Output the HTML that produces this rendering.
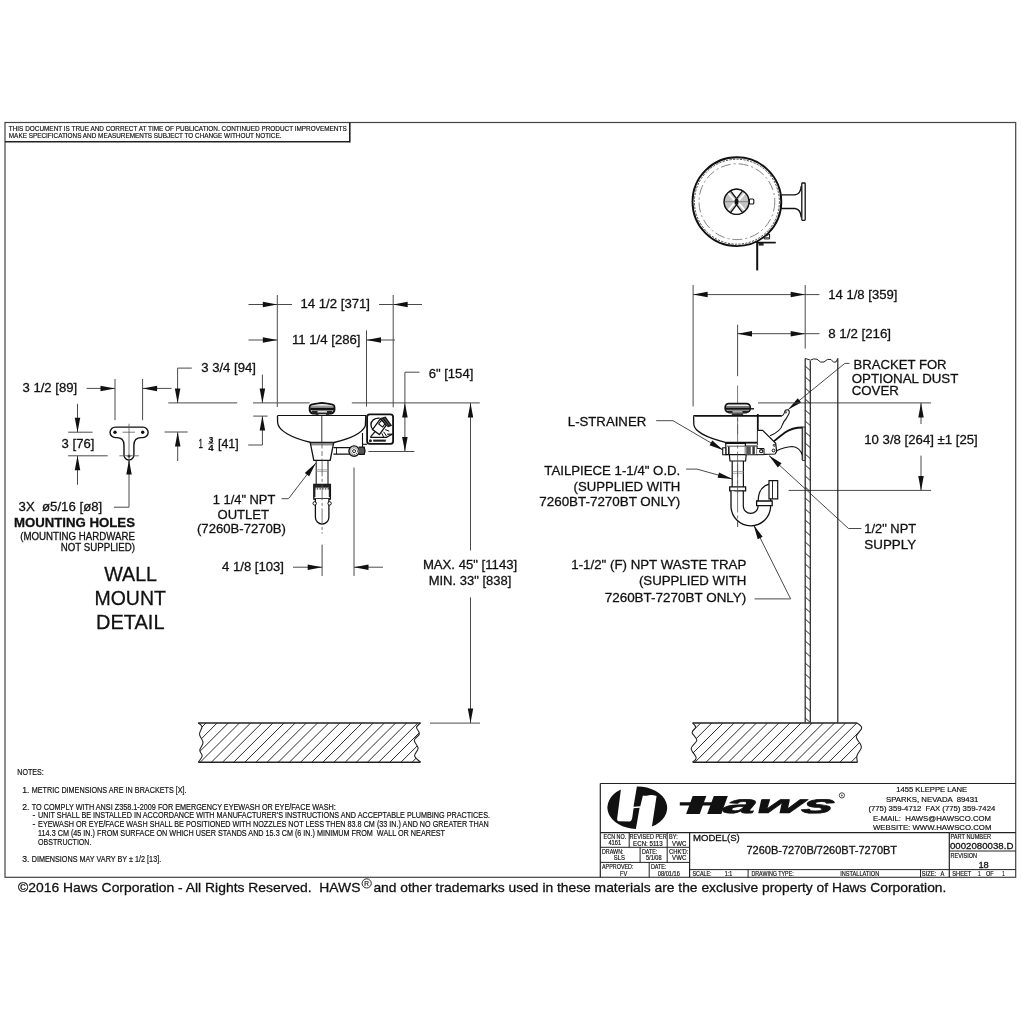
<!DOCTYPE html>
<html><head><meta charset="utf-8"><style>
html,body{margin:0;padding:0;background:#fff;}
svg{display:block;will-change:transform;}
text{font-family:"Liberation Sans",sans-serif;white-space:pre;}
</style></head><body>
<svg width="1024" height="1024" viewBox="0 0 1024 1024">
<rect width="1024" height="1024" fill="#fff"/>
<rect x="5" y="122.5" width="1010.7" height="754.8" fill="none" stroke="#444" stroke-width="1.2"/>
<line x1="5" y1="141.8" x2="349.8" y2="141.8" stroke="#222" stroke-width="1.6" />
<line x1="349.8" y1="122.5" x2="349.8" y2="142.4" stroke="#222" stroke-width="1.6" />
<text x="8.8" y="130.6" font-size="7" font-family="Liberation Sans" font-weight="normal" fill="#111" stroke="#111" stroke-width="0.18" text-anchor="start" textLength="337.9" lengthAdjust="spacingAndGlyphs" >THIS DOCUMENT IS TRUE AND CORRECT AT TIME OF PUBLICATION. CONTINUED PRODUCT IMPROVEMENTS</text>
<text x="8.8" y="138.4" font-size="7" font-family="Liberation Sans" font-weight="normal" fill="#111" stroke="#111" stroke-width="0.18" text-anchor="start" textLength="272.7" lengthAdjust="spacingAndGlyphs" >MAKE SPECIFICATIONS AND MEASUREMENTS SUBJECT TO CHANGE WITHOUT NOTICE.</text>
<line x1="277.3" y1="295" x2="277.3" y2="407" stroke="#4a4a4a" stroke-width="1.0" />
<line x1="393.2" y1="295" x2="393.2" y2="407.3" stroke="#4a4a4a" stroke-width="1.0" />
<line x1="366.5" y1="330.3" x2="366.5" y2="406.6" stroke="#4a4a4a" stroke-width="1.0" />
<line x1="248.5" y1="304.5" x2="292" y2="304.5" stroke="#4a4a4a" stroke-width="1.0" />
<polygon points="277.30,304.50 262.80,307.25 262.80,301.75" fill="#111"/>
<line x1="379" y1="304.5" x2="422" y2="304.5" stroke="#4a4a4a" stroke-width="1.0" />
<polygon points="393.20,304.50 407.70,301.75 407.70,307.25" fill="#111"/>
<text x="300.5" y="308" font-size="12.9" font-family="Liberation Sans" font-weight="normal" fill="#111" stroke="#111" stroke-width="0.28" text-anchor="start" textLength="69.5" lengthAdjust="spacingAndGlyphs" >14 1/2 [371]</text>
<line x1="248.5" y1="340" x2="277.3" y2="340" stroke="#4a4a4a" stroke-width="1.0" />
<polygon points="277.30,340.00 262.80,342.75 262.80,337.25" fill="#111"/>
<line x1="366.5" y1="340" x2="395" y2="340" stroke="#4a4a4a" stroke-width="1.0" />
<polygon points="366.50,340.00 381.00,337.25 381.00,342.75" fill="#111"/>
<text x="292" y="343.6" font-size="12.9" font-family="Liberation Sans" font-weight="normal" fill="#111" stroke="#111" stroke-width="0.28" text-anchor="start" textLength="68.5" lengthAdjust="spacingAndGlyphs" >11 1/4 [286]</text>
<line x1="168.3" y1="402.9" x2="237.2" y2="402.9" stroke="#4a4a4a" stroke-width="1.0" />
<line x1="253" y1="402.9" x2="309.6" y2="402.9" stroke="#4a4a4a" stroke-width="1.0" />
<line x1="351.8" y1="402.9" x2="479.8" y2="402.9" stroke="#4a4a4a" stroke-width="1.0" />
<text x="201.2" y="371.8" font-size="12.9" font-family="Liberation Sans" font-weight="normal" fill="#111" stroke="#111" stroke-width="0.28" text-anchor="start" textLength="54.8" lengthAdjust="spacingAndGlyphs" >3 3/4 [94]</text>
<polyline points="191.8,368.1 177.6,368.1 177.6,402.9" fill="none" stroke="#4a4a4a" stroke-width="1.0" />
<polygon points="177.60,402.90 174.85,388.40 180.35,388.40" fill="#111"/>
<line x1="262.4" y1="374.6" x2="262.4" y2="402.9" stroke="#4a4a4a" stroke-width="1.0" />
<polygon points="262.40,402.90 259.65,388.40 265.15,388.40" fill="#111"/>
<line x1="253.2" y1="416.1" x2="267.6" y2="416.1" stroke="#4a4a4a" stroke-width="1.0" />
<polyline points="262.4,416.1 262.4,445 248.2,445" fill="none" stroke="#4a4a4a" stroke-width="1.0" />
<polygon points="262.40,416.10 265.15,430.60 259.65,430.60" fill="#111"/>
<line x1="164.5" y1="432" x2="187.6" y2="432" stroke="#4a4a4a" stroke-width="1.0" />
<line x1="177.7" y1="432" x2="177.7" y2="461" stroke="#4a4a4a" stroke-width="1.0" />
<polygon points="177.70,432.00 180.45,446.50 174.95,446.50" fill="#111"/>
<text x="198.6" y="448.4" font-size="12.9" font-family="Liberation Sans" font-weight="normal" fill="#111" stroke="#111" stroke-width="0.28" text-anchor="start" textLength="4.4" lengthAdjust="spacingAndGlyphs" >1</text>
<text x="208.8" y="442.6" font-size="8.8" font-family="Liberation Sans" font-weight="bold" fill="#111" stroke="#111" stroke-width="0.18" text-anchor="start" textLength="4.6" lengthAdjust="spacingAndGlyphs" >3</text>
<text x="208.3" y="451.1" font-size="8.8" font-family="Liberation Sans" font-weight="bold" fill="#111" stroke="#111" stroke-width="0.18" text-anchor="start" textLength="5.4" lengthAdjust="spacingAndGlyphs" >4</text>
<line x1="208.2" y1="443.7" x2="213.7" y2="443.7" stroke="#333" stroke-width="0.8" />
<text x="218" y="448.4" font-size="12.9" font-family="Liberation Sans" font-weight="normal" fill="#111" stroke="#111" stroke-width="0.28" text-anchor="start" textLength="20.6" lengthAdjust="spacingAndGlyphs" >[41]</text>
<polyline points="419.4,372.2 404.9,372.2 404.9,451.5" fill="none" stroke="#4a4a4a" stroke-width="1.0" />
<polygon points="404.90,403.00 407.65,417.50 402.15,417.50" fill="#111"/>
<polygon points="404.90,451.50 402.15,437.00 407.65,437.00" fill="#111"/>
<text x="428.7" y="377.6" font-size="12.9" font-family="Liberation Sans" font-weight="normal" fill="#111" stroke="#111" stroke-width="0.28" text-anchor="start" textLength="44.6" lengthAdjust="spacingAndGlyphs" >6" [154]</text>
<line x1="368.4" y1="451.5" x2="414.4" y2="451.5" stroke="#4a4a4a" stroke-width="1.0" />
<line x1="470.5" y1="403" x2="470.5" y2="550.5" stroke="#4a4a4a" stroke-width="1.0" />
<polygon points="470.50,403.00 473.25,417.50 467.75,417.50" fill="#111"/>
<line x1="470.5" y1="597.4" x2="470.5" y2="723.1" stroke="#4a4a4a" stroke-width="1.0" />
<polygon points="470.50,723.10 467.75,708.60 473.25,708.60" fill="#111"/>
<text x="422.9" y="569.3" font-size="12.9" font-family="Liberation Sans" font-weight="normal" fill="#111" stroke="#111" stroke-width="0.28" text-anchor="start" textLength="94.3" lengthAdjust="spacingAndGlyphs" >MAX. 45" [1143]</text>
<text x="428.7" y="585.1" font-size="12.9" font-family="Liberation Sans" font-weight="normal" fill="#111" stroke="#111" stroke-width="0.28" text-anchor="start" textLength="82.6" lengthAdjust="spacingAndGlyphs" >MIN. 33" [838]</text>
<line x1="430" y1="723.1" x2="480" y2="723.1" stroke="#4a4a4a" stroke-width="1.0" />
<line x1="354" y1="467.5" x2="354" y2="576" stroke="#4a4a4a" stroke-width="1.0" />
<line x1="293" y1="567.2" x2="322.2" y2="567.2" stroke="#4a4a4a" stroke-width="1.0" />
<polygon points="322.20,567.20 307.70,569.95 307.70,564.45" fill="#111"/>
<line x1="354" y1="567.2" x2="383" y2="567.2" stroke="#4a4a4a" stroke-width="1.0" />
<polygon points="354.00,567.20 368.50,564.45 368.50,569.95" fill="#111"/>
<text x="222" y="570.6" font-size="12.9" font-family="Liberation Sans" font-weight="normal" fill="#111" stroke="#111" stroke-width="0.28" text-anchor="start" textLength="62" lengthAdjust="spacingAndGlyphs" >4 1/8 [103]</text>
<text x="212.8" y="504" font-size="12.9" font-family="Liberation Sans" font-weight="normal" fill="#111" stroke="#111" stroke-width="0.28" text-anchor="start" textLength="62.5" lengthAdjust="spacingAndGlyphs" >1 1/4" NPT</text>
<text x="217.5" y="518.8" font-size="12.9" font-family="Liberation Sans" font-weight="normal" fill="#111" stroke="#111" stroke-width="0.28" text-anchor="start" textLength="51.5" lengthAdjust="spacingAndGlyphs" >OUTLET</text>
<text x="197" y="532.8" font-size="12.9" font-family="Liberation Sans" font-weight="normal" fill="#111" stroke="#111" stroke-width="0.28" text-anchor="start" textLength="89" lengthAdjust="spacingAndGlyphs" >(7260B-7270B)</text>
<polyline points="281.6,498.7 288.5,498.7 315.8,463.1" fill="none" stroke="#4a4a4a" stroke-width="1.0" />
<polygon points="315.80,463.10 309.16,476.28 304.79,472.93" fill="#111"/>
<text x="22.5" y="392" font-size="12.9" font-family="Liberation Sans" font-weight="normal" fill="#111" stroke="#111" stroke-width="0.28" text-anchor="start" textLength="54.7" lengthAdjust="spacingAndGlyphs" >3 1/2 [89]</text>
<line x1="86.6" y1="388.4" x2="115" y2="388.4" stroke="#4a4a4a" stroke-width="1.0" />
<polygon points="115.00,388.40 100.50,391.15 100.50,385.65" fill="#111"/>
<line x1="142.6" y1="388.4" x2="171.5" y2="388.4" stroke="#4a4a4a" stroke-width="1.0" />
<polygon points="142.60,388.40 157.10,385.65 157.10,391.15" fill="#111"/>
<line x1="115" y1="379" x2="115" y2="420.2" stroke="#4a4a4a" stroke-width="1.0" />
<line x1="142.6" y1="379" x2="142.6" y2="420.2" stroke="#4a4a4a" stroke-width="1.0" />
<path d="M115.3,427.1 L142.9,427.1 A5.25,5.25 0 0 1 142.9,437.6 L141.2,437.6 C136.4,437.6 133.9,440.8 133.9,445.2 L133.9,455 A4.95,4.95 0 0 1 124,455 L124,445.2 C124,440.8 121.6,437.6 116.8,437.6 L115.3,437.6 A5.25,5.25 0 0 1 115.3,427.1 Z" fill="none" stroke="#111" stroke-width="1.4" />
<circle cx="115" cy="432.2" r="1.7" fill="#111"/>
<circle cx="142.7" cy="432.2" r="1.7" fill="#111"/>
<circle cx="129" cy="456" r="1.5" fill="#111"/>
<line x1="129" y1="423.7" x2="129" y2="463" stroke="#555" stroke-width="0.8" />
<line x1="122.5" y1="432.2" x2="135" y2="432.2" stroke="#555" stroke-width="0.8" />
<line x1="119.4" y1="455.8" x2="138.9" y2="455.8" stroke="#555" stroke-width="0.8" />
<text x="61.6" y="447.5" font-size="12.9" font-family="Liberation Sans" font-weight="normal" fill="#111" stroke="#111" stroke-width="0.28" text-anchor="start" textLength="32.8" lengthAdjust="spacingAndGlyphs" >3 [76]</text>
<line x1="68.1" y1="432.2" x2="92.5" y2="432.2" stroke="#4a4a4a" stroke-width="1.0" />
<line x1="68.1" y1="455.8" x2="107.7" y2="455.8" stroke="#4a4a4a" stroke-width="1.0" />
<line x1="77.5" y1="403.8" x2="77.5" y2="432.2" stroke="#4a4a4a" stroke-width="1.0" />
<polygon points="77.50,432.20 74.75,417.70 80.25,417.70" fill="#111"/>
<line x1="77.5" y1="455.8" x2="77.5" y2="484.7" stroke="#4a4a4a" stroke-width="1.0" />
<polygon points="77.50,455.80 80.25,470.30 74.75,470.30" fill="#111"/>
<polyline points="129,460 129,507.2 113.9,507.2" fill="none" stroke="#4a4a4a" stroke-width="1.0" />
<polygon points="129.00,460.00 131.75,474.50 126.25,474.50" fill="#111"/>
<text x="18.6" y="510.8" font-size="12.9" font-family="Liberation Sans" font-weight="normal" fill="#111" stroke="#111" stroke-width="0.28" text-anchor="start" textLength="83.6" lengthAdjust="spacingAndGlyphs" >3X  ø5/16 [ø8]</text>
<text x="13.9" y="526.9" font-size="12.6" font-family="Liberation Sans" font-weight="bold" fill="#111" stroke="#111" stroke-width="0.28" text-anchor="start" textLength="121.1" lengthAdjust="spacingAndGlyphs" >MOUNTING HOLES</text>
<text x="20.2" y="539.7" font-size="10" font-family="Liberation Sans" font-weight="normal" fill="#111" stroke="#111" stroke-width="0.28" text-anchor="start" textLength="114.8" lengthAdjust="spacingAndGlyphs" >(MOUNTING HARDWARE</text>
<text x="60.8" y="551" font-size="10" font-family="Liberation Sans" font-weight="normal" fill="#111" stroke="#111" stroke-width="0.28" text-anchor="start" textLength="74.2" lengthAdjust="spacingAndGlyphs" >NOT SUPPLIED)</text>
<text x="104.2" y="581.2" font-size="20" font-family="Liberation Sans" font-weight="normal" fill="#111" stroke="#111" stroke-width="0.28" text-anchor="start" textLength="52.9" lengthAdjust="spacingAndGlyphs" >WALL</text>
<text x="94.5" y="605.3" font-size="20" font-family="Liberation Sans" font-weight="normal" fill="#111" stroke="#111" stroke-width="0.28" text-anchor="start" textLength="71.4" lengthAdjust="spacingAndGlyphs" >MOUNT</text>
<text x="96.1" y="628.9" font-size="20" font-family="Liberation Sans" font-weight="normal" fill="#111" stroke="#111" stroke-width="0.28" text-anchor="start" textLength="68.4" lengthAdjust="spacingAndGlyphs" >DETAIL</text>
<text x="17.3" y="775.2" font-size="8.6" font-family="Liberation Sans" font-weight="normal" fill="#111" stroke="#111" stroke-width="0.18" text-anchor="start" textLength="26.4" lengthAdjust="spacingAndGlyphs" >NOTES:</text>
<text x="22.3" y="793" font-size="8.6" font-family="Liberation Sans" font-weight="normal" fill="#111" stroke="#111" stroke-width="0.18" text-anchor="start" >1.</text>
<text x="31.7" y="793" font-size="8.6" font-family="Liberation Sans" font-weight="normal" fill="#111" stroke="#111" stroke-width="0.18" text-anchor="start" textLength="154.9" lengthAdjust="spacingAndGlyphs" >METRIC DIMENSIONS ARE IN BRACKETS [X].</text>
<text x="22.3" y="809.5" font-size="8.6" font-family="Liberation Sans" font-weight="normal" fill="#111" stroke="#111" stroke-width="0.18" text-anchor="start" >2.</text>
<text x="31.7" y="809.5" font-size="8.6" font-family="Liberation Sans" font-weight="normal" fill="#111" stroke="#111" stroke-width="0.18" text-anchor="start" textLength="304.1" lengthAdjust="spacingAndGlyphs" >TO COMPLY WITH ANSI Z358.1-2009 FOR EMERGENCY EYEWASH OR EYE/FACE WASH:</text>
<text x="32.5" y="817.9" font-size="8.6" font-family="Liberation Sans" font-weight="normal" fill="#111" stroke="#111" stroke-width="0.18" text-anchor="start" >-</text>
<text x="38.1" y="817.9" font-size="8.6" font-family="Liberation Sans" font-weight="normal" fill="#111" stroke="#111" stroke-width="0.18" text-anchor="start" textLength="451.9" lengthAdjust="spacingAndGlyphs" >UNIT SHALL BE INSTALLED IN ACCORDANCE WITH MANUFACTURER'S INSTRUCTIONS AND ACCEPTABLE PLUMBING PRACTICES.</text>
<text x="32.5" y="826.8" font-size="8.6" font-family="Liberation Sans" font-weight="normal" fill="#111" stroke="#111" stroke-width="0.18" text-anchor="start" >-</text>
<text x="38.1" y="826.8" font-size="8.6" font-family="Liberation Sans" font-weight="normal" fill="#111" stroke="#111" stroke-width="0.18" text-anchor="start" textLength="450.6" lengthAdjust="spacingAndGlyphs" >EYEWASH OR EYE/FACE WASH SHALL BE POSITIONED WITH NOZZLES NOT LESS THEN 83.8 CM (33 IN.) AND NO GREATER THAN</text>
<text x="38.1" y="835.7" font-size="8.6" font-family="Liberation Sans" font-weight="normal" fill="#111" stroke="#111" stroke-width="0.18" text-anchor="start" textLength="406.9" lengthAdjust="spacingAndGlyphs" >114.3 CM (45 IN.) FROM SURFACE ON WHICH USER STANDS AND 15.3 CM (6 IN.) MINIMUM FROM  WALL OR NEAREST</text>
<text x="38.1" y="844.6" font-size="8.6" font-family="Liberation Sans" font-weight="normal" fill="#111" stroke="#111" stroke-width="0.18" text-anchor="start" textLength="53.3" lengthAdjust="spacingAndGlyphs" >OBSTRUCTION.</text>
<text x="22.3" y="861.6" font-size="8.6" font-family="Liberation Sans" font-weight="normal" fill="#111" stroke="#111" stroke-width="0.18" text-anchor="start" >3.</text>
<text x="31.7" y="861.6" font-size="8.6" font-family="Liberation Sans" font-weight="normal" fill="#111" stroke="#111" stroke-width="0.18" text-anchor="start" textLength="129.5" lengthAdjust="spacingAndGlyphs" >DIMENSIONS MAY VARY BY ± 1/2 [13].</text>
<text x="18" y="891.7" font-size="13.6" font-family="Liberation Sans" font-weight="normal" fill="#111" stroke="#111" stroke-width="0.28" text-anchor="start" textLength="342.5" lengthAdjust="spacingAndGlyphs" >©2016 Haws Corporation - All Rights Reserved.  HAWS</text>
<circle cx="366.7" cy="883.4" r="4.6" fill="none" stroke="#111" stroke-width="0.9"/>
<text x="366.7" y="886.2" font-size="6.5" font-family="Liberation Sans" font-weight="normal" fill="#111" stroke="#111" stroke-width="0.18" text-anchor="middle" >R</text>
<text x="373.4" y="891.7" font-size="13.6" font-family="Liberation Sans" font-weight="normal" fill="#111" stroke="#111" stroke-width="0.28" text-anchor="start" textLength="573.0" lengthAdjust="spacingAndGlyphs" >and other trademarks used in these materials are the exclusive property of Haws Corporation.</text>
<line x1="600.3" y1="783.5" x2="1015.7" y2="783.5" stroke="#222" stroke-width="1.2" />
<line x1="600.3" y1="783.5" x2="600.3" y2="877.3" stroke="#222" stroke-width="1.2" />
<line x1="600.3" y1="832.6" x2="1015.7" y2="832.6" stroke="#222" stroke-width="1.2" />
<line x1="689.6" y1="832.6" x2="689.6" y2="877.3" stroke="#222" stroke-width="1.2" />
<line x1="949.3" y1="832.6" x2="949.3" y2="877.3" stroke="#222" stroke-width="1.2" />
<line x1="600.3" y1="847.3" x2="689.6" y2="847.3" stroke="#222" stroke-width="1.0" />
<line x1="600.3" y1="862.4" x2="689.6" y2="862.4" stroke="#222" stroke-width="1.0" />
<line x1="629.2" y1="832.6" x2="629.2" y2="847.3" stroke="#222" stroke-width="1.0" />
<line x1="667.2" y1="832.6" x2="667.2" y2="862.4" stroke="#222" stroke-width="1.0" />
<line x1="640.1" y1="847.3" x2="640.1" y2="862.4" stroke="#222" stroke-width="1.0" />
<line x1="649.2" y1="862.4" x2="649.2" y2="877.3" stroke="#222" stroke-width="1.0" />
<line x1="689.6" y1="869.6" x2="1015.7" y2="869.6" stroke="#222" stroke-width="1.0" />
<line x1="748.1" y1="869.6" x2="748.1" y2="877.3" stroke="#222" stroke-width="1.0" />
<line x1="920.5" y1="869.6" x2="920.5" y2="877.3" stroke="#222" stroke-width="1.0" />
<line x1="949.3" y1="851" x2="1015.7" y2="851" stroke="#222" stroke-width="1.0" />
<text x="603.6" y="838.7" font-size="6.8" font-family="Liberation Sans" font-weight="normal" fill="#111" stroke="#111" stroke-width="0.18" text-anchor="start" textLength="22.6" lengthAdjust="spacingAndGlyphs" >ECN NO.</text>
<text x="608.4" y="845.3" font-size="6.8" font-family="Liberation Sans" font-weight="normal" fill="#111" stroke="#111" stroke-width="0.18" text-anchor="start" textLength="12.9" lengthAdjust="spacingAndGlyphs" >4161</text>
<text x="629.6" y="838.7" font-size="6.8" font-family="Liberation Sans" font-weight="normal" fill="#111" stroke="#111" stroke-width="0.18" text-anchor="start" textLength="37.2" lengthAdjust="spacingAndGlyphs" >REVISED PER</text>
<text x="633.1" y="845.6" font-size="6.8" font-family="Liberation Sans" font-weight="normal" fill="#111" stroke="#111" stroke-width="0.18" text-anchor="start" textLength="29.6" lengthAdjust="spacingAndGlyphs" >ECN: 5113</text>
<text x="669.1" y="838.7" font-size="6.8" font-family="Liberation Sans" font-weight="normal" fill="#111" stroke="#111" stroke-width="0.18" text-anchor="start" textLength="8.6" lengthAdjust="spacingAndGlyphs" >BY:</text>
<text x="672.1" y="845.6" font-size="6.8" font-family="Liberation Sans" font-weight="normal" fill="#111" stroke="#111" stroke-width="0.18" text-anchor="start" textLength="14.2" lengthAdjust="spacingAndGlyphs" >VWC</text>
<text x="602" y="853.6" font-size="6.8" font-family="Liberation Sans" font-weight="normal" fill="#111" stroke="#111" stroke-width="0.18" text-anchor="start" textLength="21.5" lengthAdjust="spacingAndGlyphs" >DRAWN:</text>
<text x="613.8" y="860.4" font-size="6.8" font-family="Liberation Sans" font-weight="normal" fill="#111" stroke="#111" stroke-width="0.18" text-anchor="start" textLength="11.2" lengthAdjust="spacingAndGlyphs" >SLS</text>
<text x="642" y="853.6" font-size="6.8" font-family="Liberation Sans" font-weight="normal" fill="#111" stroke="#111" stroke-width="0.18" text-anchor="start" textLength="15.3" lengthAdjust="spacingAndGlyphs" >DATE:</text>
<text x="646" y="860.4" font-size="6.8" font-family="Liberation Sans" font-weight="normal" fill="#111" stroke="#111" stroke-width="0.18" text-anchor="start" textLength="15.6" lengthAdjust="spacingAndGlyphs" >5/1/08</text>
<text x="669.1" y="853.6" font-size="6.8" font-family="Liberation Sans" font-weight="normal" fill="#111" stroke="#111" stroke-width="0.18" text-anchor="start" textLength="19.4" lengthAdjust="spacingAndGlyphs" >CHK'D:</text>
<text x="672.1" y="860.4" font-size="6.8" font-family="Liberation Sans" font-weight="normal" fill="#111" stroke="#111" stroke-width="0.18" text-anchor="start" textLength="14.2" lengthAdjust="spacingAndGlyphs" >VWC</text>
<text x="602" y="868.6" font-size="6.8" font-family="Liberation Sans" font-weight="normal" fill="#111" stroke="#111" stroke-width="0.18" text-anchor="start" textLength="31.5" lengthAdjust="spacingAndGlyphs" >APPROVED:</text>
<text x="620" y="875.6" font-size="6.8" font-family="Liberation Sans" font-weight="normal" fill="#111" stroke="#111" stroke-width="0.18" text-anchor="start" textLength="7.2" lengthAdjust="spacingAndGlyphs" >FV</text>
<text x="650.9" y="868.6" font-size="6.8" font-family="Liberation Sans" font-weight="normal" fill="#111" stroke="#111" stroke-width="0.18" text-anchor="start" textLength="15.5" lengthAdjust="spacingAndGlyphs" >DATE:</text>
<text x="657.8" y="875.6" font-size="6.8" font-family="Liberation Sans" font-weight="normal" fill="#111" stroke="#111" stroke-width="0.18" text-anchor="start" textLength="22.1" lengthAdjust="spacingAndGlyphs" >08/01/16</text>
<text x="693" y="841.3" font-size="9.6" font-family="Liberation Sans" font-weight="normal" fill="#111" stroke="#111" stroke-width="0.28" text-anchor="start" textLength="46.8" lengthAdjust="spacingAndGlyphs" >MODEL(S)</text>
<text x="746.4" y="853.7" font-size="11.2" font-family="Liberation Sans" font-weight="normal" fill="#111" stroke="#111" stroke-width="0.28" text-anchor="start" textLength="150.7" lengthAdjust="spacingAndGlyphs" >7260B-7270B/7260BT-7270BT</text>
<text x="692.5" y="876.1" font-size="6.8" font-family="Liberation Sans" font-weight="normal" fill="#111" stroke="#111" stroke-width="0.18" text-anchor="start" textLength="19.1" lengthAdjust="spacingAndGlyphs" >SCALE:</text>
<text x="724.8" y="876.1" font-size="6.8" font-family="Liberation Sans" font-weight="normal" fill="#111" stroke="#111" stroke-width="0.18" text-anchor="start" textLength="7.5" lengthAdjust="spacingAndGlyphs" >1:1</text>
<text x="751.4" y="876.1" font-size="6.8" font-family="Liberation Sans" font-weight="normal" fill="#111" stroke="#111" stroke-width="0.18" text-anchor="start" textLength="42.3" lengthAdjust="spacingAndGlyphs" >DRAWING TYPE:</text>
<text x="840.2" y="876.1" font-size="6.8" font-family="Liberation Sans" font-weight="normal" fill="#111" stroke="#111" stroke-width="0.18" text-anchor="start" textLength="39.0" lengthAdjust="spacingAndGlyphs" >INSTALLATION</text>
<text x="921.8" y="876.1" font-size="6.8" font-family="Liberation Sans" font-weight="normal" fill="#111" stroke="#111" stroke-width="0.18" text-anchor="start" textLength="14.3" lengthAdjust="spacingAndGlyphs" >SIZE:</text>
<text x="940.6" y="876.1" font-size="6.8" font-family="Liberation Sans" font-weight="normal" fill="#111" stroke="#111" stroke-width="0.18" text-anchor="start" textLength="3.8" lengthAdjust="spacingAndGlyphs" >A</text>
<text x="952.3" y="876.1" font-size="6.8" font-family="Liberation Sans" font-weight="normal" fill="#111" stroke="#111" stroke-width="0.18" text-anchor="start" textLength="18.9" lengthAdjust="spacingAndGlyphs" >SHEET</text>
<text x="978" y="876.1" font-size="6.8" font-family="Liberation Sans" font-weight="normal" fill="#111" stroke="#111" stroke-width="0.18" text-anchor="start" textLength="2.6" lengthAdjust="spacingAndGlyphs" >1</text>
<text x="985.9" y="876.1" font-size="6.8" font-family="Liberation Sans" font-weight="normal" fill="#111" stroke="#111" stroke-width="0.18" text-anchor="start" textLength="7.7" lengthAdjust="spacingAndGlyphs" >OF</text>
<text x="1002.2" y="876.1" font-size="6.8" font-family="Liberation Sans" font-weight="normal" fill="#111" stroke="#111" stroke-width="0.18" text-anchor="start" textLength="2.4" lengthAdjust="spacingAndGlyphs" >1</text>
<text x="950.5" y="838.8" font-size="6.8" font-family="Liberation Sans" font-weight="normal" fill="#111" stroke="#111" stroke-width="0.18" text-anchor="start" textLength="40.5" lengthAdjust="spacingAndGlyphs" >PART NUMBER</text>
<text x="950" y="848.7" font-size="9.7" font-family="Liberation Sans" font-weight="normal" fill="#111" stroke="#111" stroke-width="0.28" text-anchor="start" textLength="63.4" lengthAdjust="spacingAndGlyphs" >0002080038.D</text>
<text x="950.5" y="857.6" font-size="6.8" font-family="Liberation Sans" font-weight="normal" fill="#111" stroke="#111" stroke-width="0.18" text-anchor="start" textLength="26.5" lengthAdjust="spacingAndGlyphs" >REVISION</text>
<text x="978.4" y="867.5" font-size="9.7" font-family="Liberation Sans" font-weight="normal" fill="#111" stroke="#111" stroke-width="0.28" text-anchor="start" textLength="10.4" lengthAdjust="spacingAndGlyphs" >18</text>
<text x="896.2" y="792.3" font-size="7.8" font-family="Liberation Sans" font-weight="normal" fill="#111" stroke="#111" stroke-width="0.18" text-anchor="start" textLength="71.0" lengthAdjust="spacingAndGlyphs" >1455 KLEPPE LANE</text>
<text x="886" y="801.8" font-size="7.8" font-family="Liberation Sans" font-weight="normal" fill="#111" stroke="#111" stroke-width="0.18" text-anchor="start" textLength="92.3" lengthAdjust="spacingAndGlyphs" >SPARKS, NEVADA  89431</text>
<text x="868.4" y="811" font-size="7.8" font-family="Liberation Sans" font-weight="normal" fill="#111" stroke="#111" stroke-width="0.18" text-anchor="start" textLength="126.9" lengthAdjust="spacingAndGlyphs" >(775) 359-4712  FAX (775) 359-7424</text>
<text x="873" y="820.5" font-size="7.8" font-family="Liberation Sans" font-weight="normal" fill="#111" stroke="#111" stroke-width="0.18" text-anchor="start" textLength="118" lengthAdjust="spacingAndGlyphs" >E-MAIL:  HAWS@HAWSCO.COM</text>
<text x="873" y="829.7" font-size="7.8" font-family="Liberation Sans" font-weight="normal" fill="#111" stroke="#111" stroke-width="0.18" text-anchor="start" textLength="118.4" lengthAdjust="spacingAndGlyphs" >WEBSITE: WWW.HAWSCO.COM</text>
<path d="M620.9,789.6 A29.7,21.4 0 0 0 635.9,828.9 L639.6,807.8 L633.6,808.3 L632.3,817.4 Q631.6,821.5 629.4,821.5 L618.6,821.3 Q616.9,821 617.1,819 Z" fill="#111" stroke="none" stroke-width="0" />
<path d="M636.9,786.4 A29.7,21.4 0 0 1 651.9,826.5 L656.6,796.1 Q652,794.3 649,795.2 Q645.5,796.3 642.9,795.6 L640.3,806.3 L633.5,806.7 Z" fill="#111" stroke="none" stroke-width="0" />
<line x1="679.8" y1="803.9" x2="722" y2="803.9" stroke="#111" stroke-width="3.2" />
<polygon points="692.7,796 706.3,796 699.7,813.9 686.1,813.9" fill="#111"/>
<polygon points="713.8,796 727.8,796 721.3,813.9 707.2,813.9" fill="#111"/>
<g transform="translate(721.5,813.4) skewX(-20)">
<text x="0" y="0" font-size="25.5" font-family="Liberation Sans" font-weight="bold" font-style="italic" fill="#111" stroke="#111" stroke-width="0.7" stroke-linejoin="round" textLength="111" lengthAdjust="spacingAndGlyphs">aws</text>
</g>
<circle cx="841.9" cy="795.4" r="2.6" fill="none" stroke="#333" stroke-width="0.9"/>
<circle cx="841.9" cy="795.4" r="0.9" fill="#555"/>
<line x1="693.1" y1="285" x2="693.1" y2="406.4" stroke="#4a4a4a" stroke-width="1.0" />
<line x1="693.1" y1="294.6" x2="819.5" y2="294.6" stroke="#4a4a4a" stroke-width="1.0" />
<polygon points="693.10,294.60 707.60,291.85 707.60,297.35" fill="#111"/>
<polygon points="805.20,294.60 790.70,297.35 790.70,291.85" fill="#111"/>
<line x1="805.2" y1="285" x2="805.2" y2="348.6" stroke="#4a4a4a" stroke-width="1.0" />
<text x="828.2" y="298.7" font-size="12.9" font-family="Liberation Sans" font-weight="normal" fill="#111" stroke="#111" stroke-width="0.28" text-anchor="start" textLength="69.2" lengthAdjust="spacingAndGlyphs" >14 1/8 [359]</text>
<line x1="737.5" y1="333.7" x2="819.5" y2="333.7" stroke="#4a4a4a" stroke-width="1.0" />
<polygon points="737.50,333.70 752.00,330.95 752.00,336.45" fill="#111"/>
<polygon points="805.20,333.70 790.70,336.45 790.70,330.95" fill="#111"/>
<line x1="737.6" y1="324.7" x2="737.6" y2="376.2" stroke="#4a4a4a" stroke-width="1.0" />
<line x1="737.6" y1="385.4" x2="737.6" y2="527" stroke="#555" stroke-width="0.8" stroke-dasharray="30,3,3,3"/>
<text x="828.2" y="337.8" font-size="12.9" font-family="Liberation Sans" font-weight="normal" fill="#111" stroke="#111" stroke-width="0.28" text-anchor="start" textLength="62.9" lengthAdjust="spacingAndGlyphs" >8 1/2 [216]</text>
<text x="853.6" y="369" font-size="12.9" font-family="Liberation Sans" font-weight="normal" fill="#111" stroke="#111" stroke-width="0.28" text-anchor="start" textLength="93.0" lengthAdjust="spacingAndGlyphs" >BRACKET FOR</text>
<text x="851.7" y="382.7" font-size="12.9" font-family="Liberation Sans" font-weight="normal" fill="#111" stroke="#111" stroke-width="0.28" text-anchor="start" textLength="106.7" lengthAdjust="spacingAndGlyphs" >OPTIONAL DUST</text>
<text x="851.7" y="395.2" font-size="12.9" font-family="Liberation Sans" font-weight="normal" fill="#111" stroke="#111" stroke-width="0.28" text-anchor="start" textLength="47.1" lengthAdjust="spacingAndGlyphs" >COVER</text>
<polyline points="849.5,363.4 844.8,363.4 788.2,409.5" fill="none" stroke="#4a4a4a" stroke-width="1.0" />
<polygon points="788.20,409.50 797.71,398.21 801.18,402.48" fill="#111"/>
<line x1="758" y1="402.9" x2="931.1" y2="402.9" stroke="#4a4a4a" stroke-width="1.0" />
<line x1="788.6" y1="490.4" x2="931.1" y2="490.4" stroke="#4a4a4a" stroke-width="1.0" />
<line x1="921" y1="402.9" x2="921" y2="424" stroke="#4a4a4a" stroke-width="1.0" />
<polygon points="921.00,402.90 923.75,417.40 918.25,417.40" fill="#111"/>
<line x1="921" y1="455.6" x2="921" y2="490.4" stroke="#4a4a4a" stroke-width="1.0" />
<polygon points="921.00,490.40 918.25,475.90 923.75,475.90" fill="#111"/>
<text x="864.3" y="444.2" font-size="12.9" font-family="Liberation Sans" font-weight="normal" fill="#111" stroke="#111" stroke-width="0.28" text-anchor="start" textLength="113.4" lengthAdjust="spacingAndGlyphs" >10 3/8 [264] ±1 [25]</text>
<text x="864.3" y="532.9" font-size="12.9" font-family="Liberation Sans" font-weight="normal" fill="#111" stroke="#111" stroke-width="0.28" text-anchor="start" textLength="51.8" lengthAdjust="spacingAndGlyphs" >1/2" NPT</text>
<text x="864.3" y="549.1" font-size="12.9" font-family="Liberation Sans" font-weight="normal" fill="#111" stroke="#111" stroke-width="0.28" text-anchor="start" textLength="51.8" lengthAdjust="spacingAndGlyphs" >SUPPLY</text>
<polyline points="769,455.6 848.5,528.5 861.3,528.5" fill="none" stroke="#4a4a4a" stroke-width="1.0" />
<polygon points="769.00,455.60 781.55,463.37 777.83,467.43" fill="#111"/>
<text x="567.8" y="425.8" font-size="12.9" font-family="Liberation Sans" font-weight="normal" fill="#111" stroke="#111" stroke-width="0.28" text-anchor="start" textLength="78.4" lengthAdjust="spacingAndGlyphs" >L-STRAINER</text>
<polyline points="656.2,420.7 673,420.7 723.4,450.2" fill="none" stroke="#4a4a4a" stroke-width="1.0" />
<polygon points="723.40,450.20 709.50,445.25 712.28,440.50" fill="#111"/>
<text x="544.3" y="474.7" font-size="12.9" font-family="Liberation Sans" font-weight="normal" fill="#111" stroke="#111" stroke-width="0.28" text-anchor="start" textLength="136.0" lengthAdjust="spacingAndGlyphs" >TAILPIECE 1-1/4" O.D.</text>
<text x="573.6" y="490.5" font-size="12.9" font-family="Liberation Sans" font-weight="normal" fill="#111" stroke="#111" stroke-width="0.28" text-anchor="start" textLength="106.7" lengthAdjust="spacingAndGlyphs" >(SUPPLIED WITH</text>
<text x="539.3" y="506.3" font-size="12.9" font-family="Liberation Sans" font-weight="normal" fill="#111" stroke="#111" stroke-width="0.28" text-anchor="start" textLength="141.0" lengthAdjust="spacingAndGlyphs" >7260BT-7270BT ONLY)</text>
<polyline points="686.1,469.1 697,469.1 732.3,479" fill="none" stroke="#4a4a4a" stroke-width="1.0" />
<polygon points="732.30,479.00 717.60,477.73 719.08,472.44" fill="#111"/>
<text x="571.3" y="568.8" font-size="12.9" font-family="Liberation Sans" font-weight="normal" fill="#111" stroke="#111" stroke-width="0.28" text-anchor="start" textLength="175.0" lengthAdjust="spacingAndGlyphs" >1-1/2" (F) NPT WASTE TRAP</text>
<text x="638.9" y="585.2" font-size="12.9" font-family="Liberation Sans" font-weight="normal" fill="#111" stroke="#111" stroke-width="0.28" text-anchor="start" textLength="107.4" lengthAdjust="spacingAndGlyphs" >(SUPPLIED WITH</text>
<text x="604.7" y="601.6" font-size="12.9" font-family="Liberation Sans" font-weight="normal" fill="#111" stroke="#111" stroke-width="0.28" text-anchor="start" textLength="141.6" lengthAdjust="spacingAndGlyphs" >7260BT-7270BT ONLY)</text>
<polyline points="754.5,598.9 790.6,598.9 753.7,525" fill="none" stroke="#4a4a4a" stroke-width="1.0" />
<polygon points="753.70,525.00 762.64,536.74 757.72,539.20" fill="#111"/>
<clipPath id="fl1"><path d="M198.2,722.9 L420.5,722.9 C419.83,723.65 416.68,725.58 416.50,727.40 C416.32,729.22 419.77,731.67 419.40,733.80 C419.03,735.93 414.52,737.78 414.30,740.20 C414.08,742.62 418.05,745.70 418.10,748.30 C418.15,750.90 414.20,753.48 414.60,755.80 C415.00,758.12 419.52,761.13 420.50,762.20 L198.3,762.2 C198.95,761.17 201.95,758.00 202.20,756.00 C202.45,754.00 199.67,752.45 199.80,750.20 C199.93,747.95 203.05,745.15 203.00,742.50 C202.95,739.85 199.67,736.92 199.50,734.30 C199.33,731.68 202.22,728.70 202.00,726.80 C201.78,724.90 198.83,723.55 198.20,722.90 Z"/></clipPath>
<g clip-path="url(#fl1)">
<line x1="111.05" y1="762.2" x2="150.35" y2="722.9" stroke="#2a2a2a" stroke-width="1.0" />
<line x1="122.2" y1="762.2" x2="161.5" y2="722.9" stroke="#2a2a2a" stroke-width="1.0" />
<line x1="133.35" y1="762.2" x2="172.65" y2="722.9" stroke="#2a2a2a" stroke-width="1.0" />
<line x1="144.5" y1="762.2" x2="183.8" y2="722.9" stroke="#2a2a2a" stroke-width="1.0" />
<line x1="155.65" y1="762.2" x2="194.95" y2="722.9" stroke="#2a2a2a" stroke-width="1.0" />
<line x1="166.8" y1="762.2" x2="206.1" y2="722.9" stroke="#2a2a2a" stroke-width="1.0" />
<line x1="177.95" y1="762.2" x2="217.25" y2="722.9" stroke="#2a2a2a" stroke-width="1.0" />
<line x1="189.1" y1="762.2" x2="228.4" y2="722.9" stroke="#2a2a2a" stroke-width="1.0" />
<line x1="200.25" y1="762.2" x2="239.55" y2="722.9" stroke="#2a2a2a" stroke-width="1.0" />
<line x1="211.4" y1="762.2" x2="250.7" y2="722.9" stroke="#2a2a2a" stroke-width="1.0" />
<line x1="222.55" y1="762.2" x2="261.85" y2="722.9" stroke="#2a2a2a" stroke-width="1.0" />
<line x1="233.7" y1="762.2" x2="273.0" y2="722.9" stroke="#2a2a2a" stroke-width="1.0" />
<line x1="244.85" y1="762.2" x2="284.15" y2="722.9" stroke="#2a2a2a" stroke-width="1.0" />
<line x1="256.0" y1="762.2" x2="295.3" y2="722.9" stroke="#2a2a2a" stroke-width="1.0" />
<line x1="267.15" y1="762.2" x2="306.45" y2="722.9" stroke="#2a2a2a" stroke-width="1.0" />
<line x1="278.3" y1="762.2" x2="317.6" y2="722.9" stroke="#2a2a2a" stroke-width="1.0" />
<line x1="289.45" y1="762.2" x2="328.75" y2="722.9" stroke="#2a2a2a" stroke-width="1.0" />
<line x1="300.6" y1="762.2" x2="339.9" y2="722.9" stroke="#2a2a2a" stroke-width="1.0" />
<line x1="311.75" y1="762.2" x2="351.05" y2="722.9" stroke="#2a2a2a" stroke-width="1.0" />
<line x1="322.9" y1="762.2" x2="362.2" y2="722.9" stroke="#2a2a2a" stroke-width="1.0" />
<line x1="334.05" y1="762.2" x2="373.35" y2="722.9" stroke="#2a2a2a" stroke-width="1.0" />
<line x1="345.2" y1="762.2" x2="384.5" y2="722.9" stroke="#2a2a2a" stroke-width="1.0" />
<line x1="356.35" y1="762.2" x2="395.65" y2="722.9" stroke="#2a2a2a" stroke-width="1.0" />
<line x1="367.5" y1="762.2" x2="406.8" y2="722.9" stroke="#2a2a2a" stroke-width="1.0" />
<line x1="378.65" y1="762.2" x2="417.95" y2="722.9" stroke="#2a2a2a" stroke-width="1.0" />
<line x1="389.8" y1="762.2" x2="429.1" y2="722.9" stroke="#2a2a2a" stroke-width="1.0" />
<line x1="400.95" y1="762.2" x2="440.25" y2="722.9" stroke="#2a2a2a" stroke-width="1.0" />
<line x1="412.1" y1="762.2" x2="451.4" y2="722.9" stroke="#2a2a2a" stroke-width="1.0" />
<line x1="423.25" y1="762.2" x2="462.55" y2="722.9" stroke="#2a2a2a" stroke-width="1.0" />
</g>
<line x1="198.2" y1="722.9" x2="420.5" y2="722.9" stroke="#222" stroke-width="1.5" />
<line x1="198.3" y1="762.2" x2="420.5" y2="762.2" stroke="#222" stroke-width="1.5" />
<path d="M198.2,722.9 C198.83,723.55 201.78,724.90 202.00,726.80 C202.22,728.70 199.33,731.68 199.50,734.30 C199.67,736.92 202.95,739.85 203.00,742.50 C203.05,745.15 199.93,747.95 199.80,750.20 C199.67,752.45 202.45,754.00 202.20,756.00 C201.95,758.00 198.95,761.17 198.30,762.20 " fill="none" stroke="#222" stroke-width="1.1" />
<path d="M420.5,722.9 C419.83,723.65 416.68,725.58 416.50,727.40 C416.32,729.22 419.77,731.67 419.40,733.80 C419.03,735.93 414.52,737.78 414.30,740.20 C414.08,742.62 418.05,745.70 418.10,748.30 C418.15,750.90 414.20,753.48 414.60,755.80 C415.00,758.12 419.52,761.13 420.50,762.20 " fill="none" stroke="#222" stroke-width="1.1" />
<clipPath id="fl2"><path d="M692.6,722.9 L856.9,722.9 C857.70,723.73 861.80,725.63 861.70,727.90 C861.60,730.17 856.48,733.73 856.30,736.50 C856.12,739.27 859.80,742.53 860.60,744.50 C861.40,746.47 861.72,746.42 861.10,748.30 C860.48,750.18 857.52,753.48 856.90,755.80 C856.28,758.12 857.32,761.13 857.40,762.20 L692.6,762.2 C693.20,761.47 696.43,760.10 696.20,757.80 C695.97,755.50 691.10,751.33 691.20,748.40 C691.30,745.47 696.65,742.83 696.80,740.20 C696.95,737.57 692.30,734.75 692.10,732.60 C691.90,730.45 695.52,728.92 695.60,727.30 C695.68,725.68 693.10,723.63 692.60,722.90 Z"/></clipPath>
<g clip-path="url(#fl2)">
<line x1="605.75" y1="762.2" x2="645.05" y2="722.9" stroke="#2a2a2a" stroke-width="1.0" />
<line x1="616.9" y1="762.2" x2="656.2" y2="722.9" stroke="#2a2a2a" stroke-width="1.0" />
<line x1="628.05" y1="762.2" x2="667.35" y2="722.9" stroke="#2a2a2a" stroke-width="1.0" />
<line x1="639.2" y1="762.2" x2="678.5" y2="722.9" stroke="#2a2a2a" stroke-width="1.0" />
<line x1="650.35" y1="762.2" x2="689.65" y2="722.9" stroke="#2a2a2a" stroke-width="1.0" />
<line x1="661.5" y1="762.2" x2="700.8" y2="722.9" stroke="#2a2a2a" stroke-width="1.0" />
<line x1="672.65" y1="762.2" x2="711.95" y2="722.9" stroke="#2a2a2a" stroke-width="1.0" />
<line x1="683.8" y1="762.2" x2="723.1" y2="722.9" stroke="#2a2a2a" stroke-width="1.0" />
<line x1="694.95" y1="762.2" x2="734.25" y2="722.9" stroke="#2a2a2a" stroke-width="1.0" />
<line x1="706.1" y1="762.2" x2="745.4" y2="722.9" stroke="#2a2a2a" stroke-width="1.0" />
<line x1="717.25" y1="762.2" x2="756.55" y2="722.9" stroke="#2a2a2a" stroke-width="1.0" />
<line x1="728.4" y1="762.2" x2="767.7" y2="722.9" stroke="#2a2a2a" stroke-width="1.0" />
<line x1="739.55" y1="762.2" x2="778.85" y2="722.9" stroke="#2a2a2a" stroke-width="1.0" />
<line x1="750.7" y1="762.2" x2="790.0" y2="722.9" stroke="#2a2a2a" stroke-width="1.0" />
<line x1="761.85" y1="762.2" x2="801.15" y2="722.9" stroke="#2a2a2a" stroke-width="1.0" />
<line x1="773.0" y1="762.2" x2="812.3" y2="722.9" stroke="#2a2a2a" stroke-width="1.0" />
<line x1="784.15" y1="762.2" x2="823.45" y2="722.9" stroke="#2a2a2a" stroke-width="1.0" />
<line x1="795.3" y1="762.2" x2="834.6" y2="722.9" stroke="#2a2a2a" stroke-width="1.0" />
<line x1="806.45" y1="762.2" x2="845.75" y2="722.9" stroke="#2a2a2a" stroke-width="1.0" />
<line x1="817.6" y1="762.2" x2="856.9" y2="722.9" stroke="#2a2a2a" stroke-width="1.0" />
<line x1="828.75" y1="762.2" x2="868.05" y2="722.9" stroke="#2a2a2a" stroke-width="1.0" />
<line x1="839.9" y1="762.2" x2="879.2" y2="722.9" stroke="#2a2a2a" stroke-width="1.0" />
<line x1="851.05" y1="762.2" x2="890.35" y2="722.9" stroke="#2a2a2a" stroke-width="1.0" />
<line x1="862.2" y1="762.2" x2="901.5" y2="722.9" stroke="#2a2a2a" stroke-width="1.0" />
</g>
<line x1="692.6" y1="722.9" x2="856.9" y2="722.9" stroke="#222" stroke-width="1.5" />
<line x1="692.6" y1="762.2" x2="857.4" y2="762.2" stroke="#222" stroke-width="1.5" />
<path d="M692.6,722.9 C693.10,723.63 695.68,725.68 695.60,727.30 C695.52,728.92 691.90,730.45 692.10,732.60 C692.30,734.75 696.95,737.57 696.80,740.20 C696.65,742.83 691.30,745.47 691.20,748.40 C691.10,751.33 695.97,755.50 696.20,757.80 C696.43,760.10 693.20,761.47 692.60,762.20 " fill="none" stroke="#222" stroke-width="1.1" />
<path d="M856.9,722.9 C857.70,723.73 861.80,725.63 861.70,727.90 C861.60,730.17 856.48,733.73 856.30,736.50 C856.12,739.27 859.80,742.53 860.60,744.50 C861.40,746.47 861.72,746.42 861.10,748.30 C860.48,750.18 857.52,753.48 856.90,755.80 C856.28,758.12 857.32,761.13 857.40,762.20 " fill="none" stroke="#222" stroke-width="1.1" />
<clipPath id="wallc"><rect x="805.2" y="360" width="5.1" height="362.6"/></clipPath>
<g clip-path="url(#wallc)">
<line x1="805.2" y1="344" x2="810.3" y2="348.6" stroke="#222" stroke-width="1.0" />
<line x1="805.2" y1="355.0" x2="810.3" y2="359.6" stroke="#222" stroke-width="1.0" />
<line x1="805.2" y1="366.0" x2="810.3" y2="370.6" stroke="#222" stroke-width="1.0" />
<line x1="805.2" y1="377.0" x2="810.3" y2="381.6" stroke="#222" stroke-width="1.0" />
<line x1="805.2" y1="388.0" x2="810.3" y2="392.6" stroke="#222" stroke-width="1.0" />
<line x1="805.2" y1="399.0" x2="810.3" y2="403.6" stroke="#222" stroke-width="1.0" />
<line x1="805.2" y1="410.0" x2="810.3" y2="414.6" stroke="#222" stroke-width="1.0" />
<line x1="805.2" y1="421.0" x2="810.3" y2="425.6" stroke="#222" stroke-width="1.0" />
<line x1="805.2" y1="432.0" x2="810.3" y2="436.6" stroke="#222" stroke-width="1.0" />
<line x1="805.2" y1="443.0" x2="810.3" y2="447.6" stroke="#222" stroke-width="1.0" />
<line x1="805.2" y1="454.0" x2="810.3" y2="458.6" stroke="#222" stroke-width="1.0" />
<line x1="805.2" y1="465.0" x2="810.3" y2="469.6" stroke="#222" stroke-width="1.0" />
<line x1="805.2" y1="476.0" x2="810.3" y2="480.6" stroke="#222" stroke-width="1.0" />
<line x1="805.2" y1="487.0" x2="810.3" y2="491.6" stroke="#222" stroke-width="1.0" />
<line x1="805.2" y1="498.0" x2="810.3" y2="502.6" stroke="#222" stroke-width="1.0" />
<line x1="805.2" y1="509.0" x2="810.3" y2="513.6" stroke="#222" stroke-width="1.0" />
<line x1="805.2" y1="520.0" x2="810.3" y2="524.6" stroke="#222" stroke-width="1.0" />
<line x1="805.2" y1="531.0" x2="810.3" y2="535.6" stroke="#222" stroke-width="1.0" />
<line x1="805.2" y1="542.0" x2="810.3" y2="546.6" stroke="#222" stroke-width="1.0" />
<line x1="805.2" y1="553.0" x2="810.3" y2="557.6" stroke="#222" stroke-width="1.0" />
<line x1="805.2" y1="564.0" x2="810.3" y2="568.6" stroke="#222" stroke-width="1.0" />
<line x1="805.2" y1="575.0" x2="810.3" y2="579.6" stroke="#222" stroke-width="1.0" />
<line x1="805.2" y1="586.0" x2="810.3" y2="590.6" stroke="#222" stroke-width="1.0" />
<line x1="805.2" y1="597.0" x2="810.3" y2="601.6" stroke="#222" stroke-width="1.0" />
<line x1="805.2" y1="608.0" x2="810.3" y2="612.6" stroke="#222" stroke-width="1.0" />
<line x1="805.2" y1="619.0" x2="810.3" y2="623.6" stroke="#222" stroke-width="1.0" />
<line x1="805.2" y1="630.0" x2="810.3" y2="634.6" stroke="#222" stroke-width="1.0" />
<line x1="805.2" y1="641.0" x2="810.3" y2="645.6" stroke="#222" stroke-width="1.0" />
<line x1="805.2" y1="652.0" x2="810.3" y2="656.6" stroke="#222" stroke-width="1.0" />
<line x1="805.2" y1="663.0" x2="810.3" y2="667.6" stroke="#222" stroke-width="1.0" />
<line x1="805.2" y1="674.0" x2="810.3" y2="678.6" stroke="#222" stroke-width="1.0" />
<line x1="805.2" y1="685.0" x2="810.3" y2="689.6" stroke="#222" stroke-width="1.0" />
<line x1="805.2" y1="696.0" x2="810.3" y2="700.6" stroke="#222" stroke-width="1.0" />
<line x1="805.2" y1="707.0" x2="810.3" y2="711.6" stroke="#222" stroke-width="1.0" />
<line x1="805.2" y1="718.0" x2="810.3" y2="722.6" stroke="#222" stroke-width="1.0" />
<line x1="805.2" y1="729.0" x2="810.3" y2="733.6" stroke="#222" stroke-width="1.0" />
</g>
<line x1="805.2" y1="358.4" x2="805.2" y2="722.6" stroke="#222" stroke-width="1.2" />
<line x1="810.3" y1="361" x2="810.3" y2="722.6" stroke="#222" stroke-width="1.2" />
<line x1="837.8" y1="358.4" x2="837.8" y2="722.6" stroke="#222" stroke-width="1.2" />
<path d="M805.2,358.4 L810.3,360.2 Q813.5,358.2 817,359.2 Q820.5,363.5 824,362 Q827.5,358 831,359.5 Q833.5,363.5 836,362 L837.8,358.4" fill="none" stroke="#222" stroke-width="1.0" />
<path d="M309.6,410 L309.6,407.5 Q309.6,404.6 313.4,404.2 L318,403.4 Q322,402.6 326,403.4 L330.6,404.2 Q334.5,404.6 334.5,407.5 L334.5,410 Q334,412.8 331,413.7 L313,413.7 Q310,412.8 309.6,410 Z" fill="#fff" stroke="#111" stroke-width="1.8"/>
<line x1="310.4" y1="406.2" x2="333.8" y2="406.2" stroke="#444" stroke-width="0.8" />
<rect x="310.2" y="407.5" width="23.8" height="2.6" fill="#111"/>
<path d="M311.5,410.5 L332.8,410.5 L331.5,413.6 L313,413.6 Z" fill="#222"/>
<rect x="317.5" y="411" width="9.5" height="1.6" fill="#ddd"/>
<path d="M315.6,413.5 L329.3,413.5 L329.3,416 L315.6,416 Z" fill="#333"/>
<rect x="318.5" y="414" width="7.5" height="1.2" fill="#bbb"/>
<path d="M277.3,415.8 L366.4,415.8" fill="none" stroke="#111" stroke-width="1.6" />
<path d="M277.5,416 L277.6,422.5 C278.2,430.5 291,437.8 311,442.5 L334,442.5 C350,438.8 362,433 365.3,426 L365.8,416" fill="#fff" stroke="#111" stroke-width="1.3" />
<line x1="321.8" y1="416" x2="321.8" y2="442.6" stroke="#333" stroke-width="1.0" />
<path d="M310.3,442.8 L333.6,442.8 L330.2,460.4 L313.8,460.4 Z" fill="#fff" stroke="#111" stroke-width="1.3" />
<line x1="311" y1="444.8" x2="333" y2="444.8" stroke="#333" stroke-width="0.8" />
<path d="M316.2,460.4 L316.2,484.3 M328,460.4 L328,484.3" fill="none" stroke="#222" stroke-width="1.1" />
<line x1="316.2" y1="469.8" x2="328" y2="469.8" stroke="#888" stroke-width="0.7" />
<line x1="316.2" y1="471.4" x2="328" y2="471.4" stroke="#888" stroke-width="0.7" />
<path d="M313.8,484.3 L330.4,484.3 L330.4,499 L313.8,499 Z" fill="#fff" stroke="#111" stroke-width="1.3" />
<rect x="313.8" y="484.3" width="16.6" height="3.4" fill="#222"/>
<line x1="314" y1="488.8" x2="330.2" y2="488.8" stroke="#333" stroke-width="1.2" stroke-dasharray="1.5,1.2"/>
<line x1="314.6" y1="486" x2="314.6" y2="497" stroke="#222" stroke-width="1.6" />
<line x1="329.6" y1="486" x2="329.6" y2="497" stroke="#222" stroke-width="1.6" />
<line x1="314" y1="499" x2="330.2" y2="499" stroke="#333" stroke-width="1.2" />
<path d="M315.4,499 L315.4,517.3 A6.75,6.75 0 0 0 328.9,517.3 L328.9,499" fill="#fff" stroke="#111" stroke-width="1.3" />
<circle cx="314.7" cy="503.4" r="1.7" fill="#fff" stroke="#111" stroke-width="1"/>
<circle cx="329.6" cy="503.4" r="1.7" fill="#fff" stroke="#111" stroke-width="1"/>
<line x1="322.1" y1="460.4" x2="322.1" y2="533.8" stroke="#555" stroke-width="0.8" stroke-dasharray="16,2.5,3,2.5"/>
<line x1="322.1" y1="544.7" x2="322.1" y2="576" stroke="#333" stroke-width="0.9" />
<path d="M333.4,447.6 L350,447.6 L350,454.2 L333.4,454.2" fill="#fff" stroke="#111" stroke-width="1.2" />
<line x1="336.5" y1="447.6" x2="336.5" y2="454.2" stroke="#111" stroke-width="0.9" />
<circle cx="354.1" cy="451.1" r="5.2" fill="#fff" stroke="#111" stroke-width="1.4"/>
<circle cx="354.1" cy="451.1" r="3.4" fill="none" stroke="#222" stroke-width="0.9" stroke-dasharray="1.2,0.8"/>
<circle cx="354.1" cy="451.1" r="1.5" fill="none" stroke="#111" stroke-width="0.9"/>
<path d="M358.8,447.2 L364.2,447.2 Q365.8,450.8 364.2,454.4 L358.8,454.4" fill="#555" stroke="#111" stroke-width="1.3" />
<line x1="362.5" y1="433" x2="362.5" y2="447" stroke="#111" stroke-width="1.1" />
<line x1="362.5" y1="444.3" x2="367" y2="444.3" stroke="#111" stroke-width="1.1" />
<rect x="367.1" y="414.3" width="26" height="29.5" rx="2.6" fill="#fff" stroke="#111" stroke-width="1.8"/>
<path d="M372.8,429.4 Q368.6,424.2 373.6,419.6 Q376.2,417.9 379.6,418.2" fill="none" stroke="#111" stroke-width="1.3" />
<polygon points="372.5,429.6 380.3,418.8 387.2,423.9 379.4,434.6" fill="#fff" stroke="#111" stroke-width="1.3"/>
<polygon points="378.6,424 381.4,420.3 385.4,423.3 382.6,427" fill="#fff" stroke="#111" stroke-width="1.1"/>
<polygon points="379.6,418.2 385.6,416.4 392.2,425.8 388.2,427.2 384.6,424.4" fill="#1a1a1a"/>
<path d="M382.2,418.8 L387.6,425.6 M384.4,418 L389.6,425.2" fill="none" stroke="#777" stroke-width="0.7" />
<path d="M385.2,429.6 L389.2,431.2 M383.6,431.8 L386.6,436.2 M381.8,433.2 L383.6,437" fill="none" stroke="#111" stroke-width="1.0" />
<path d="M370.4,437.2 L375,431.6" fill="none" stroke="#111" stroke-width="1.2" />
<path d="M370.4,437.4 L386.4,437.4 L392.2,434.2" fill="none" stroke="#111" stroke-width="1.3" />
<line x1="387.2" y1="434.2" x2="392.6" y2="434.2" stroke="#111" stroke-width="1.2" />
<rect x="373.2" y="439.6" width="12.6" height="2.1" fill="#222"/>
<circle cx="370.4" cy="440.8" r="1.5" fill="#222"/>
<rect x="725.2" y="403.6" width="25" height="8.6" rx="3.6" fill="#fff" stroke="#111" stroke-width="1.7"/>
<line x1="726" y1="406.4" x2="749.4" y2="406.4" stroke="#444" stroke-width="0.8" />
<rect x="725.6" y="407.4" width="24.2" height="2.4" fill="#111"/>
<path d="M727.2,410.6 L748.2,410.6 L746.8,413.4 L728.6,413.4 Z" fill="#222"/>
<rect x="732.5" y="411.2" width="10" height="1.4" fill="#ccc"/>
<line x1="750.4" y1="408.8" x2="754" y2="408.8" stroke="#111" stroke-width="1.4" />
<path d="M731.8,413.4 L743.2,413.4 L743.2,416 L731.8,416 Z" fill="#333"/>
<line x1="693.3" y1="415.9" x2="781.7" y2="415.9" stroke="#111" stroke-width="1.6" />
<path d="M693.6,416.2 L693.8,424.5 C694.5,431 706,437.6 725.3,442.3 L757.8,442.3" fill="#fff" stroke="#111" stroke-width="1.3" />
<line x1="757.8" y1="414" x2="757.8" y2="445.1" stroke="#111" stroke-width="1.8" />
<path d="M781.5,416 Q784,415 784.5,412.5 Q785,409.5 787.5,409.8 Q790,410.5 789,413.5 L786,419 Q783.5,421.5 782.5,424.5 Q781,431 770.1,435.8" fill="none" stroke="#111" stroke-width="1.1" />
<circle cx="785.7" cy="412.2" r="1.2" fill="#555"/>
<path d="M757.8,430.3 L762.6,430.3 L775.7,443.2 L776.6,451.6 L775,454 L765,454.4 L757.8,454.4" fill="#fff" stroke="#111" stroke-width="1.2" />
<circle cx="774.2" cy="445.3" r="1" fill="none" stroke="#111" stroke-width="0.9"/>
<circle cx="773.5" cy="450.5" r="1.4" fill="none" stroke="#111" stroke-width="1"/>
<circle cx="761.6" cy="450.8" r="1.5" fill="none" stroke="#111" stroke-width="1.1"/>
<path d="M773.8,441.4 Q779,437 785,432.5 Q792,427.5 802.6,427.5" fill="none" stroke="#111" stroke-width="1.8" />
<path d="M776.6,450.7 Q785,447 792,446.5 Q800,447 802.8,456" fill="none" stroke="#111" stroke-width="1.1" />
<line x1="802.2" y1="427" x2="802.2" y2="460.3" stroke="#111" stroke-width="1.0" />
<rect x="802.7" y="427" width="2.2" height="33.5" fill="#fff" stroke="#222" stroke-width="0.9"/>
<rect x="725" y="442" width="32" height="1.6" fill="#111"/>
<path d="M725.8,443.4 L745.4,443.4 L745.4,454.7 L725.8,454.7 Z" fill="#fff" stroke="#111" stroke-width="1.2" />
<path d="M722.7,447.7 L725.8,447.7 L725.8,454.7 L722.7,454.7 Z" fill="#fff" stroke="#111" stroke-width="1.1" />
<rect x="728" y="446.5" width="1.6" height="8" fill="#222"/>
<line x1="727" y1="446.2" x2="745" y2="446.2" stroke="#333" stroke-width="0.8" />
<path d="M729.4,454.7 L746.2,454.7 L745.6,461 L730,461 Z" fill="#fff" stroke="#111" stroke-width="1.2" />
<path d="M745.4,446 L757.1,446 L757.1,454.7 L745.4,454.7" fill="#fff" stroke="#111" stroke-width="1.1" />
<rect x="746.2" y="446.3" width="4.6" height="8.2" fill="#555"/>
<rect x="752.4" y="446.3" width="2.4" height="8.2" fill="#333"/>
<path d="M757.1,448.5 L764,448.5 L764,454.7 L757.1,454.7" fill="#fff" stroke="#111" stroke-width="1.0" />
<circle cx="761.2" cy="451.2" r="1.6" fill="none" stroke="#111" stroke-width="1.1"/>
<path d="M732.2,461 L732.2,487 M743.4,461 L743.4,487" fill="none" stroke="#111" stroke-width="1.2" />
<line x1="732.3" y1="471.5" x2="744" y2="471.5" stroke="#777" stroke-width="0.6" />
<line x1="732.3" y1="473.3" x2="744" y2="473.3" stroke="#777" stroke-width="0.6" />
<path d="M729.7,486.9 L745.6,486.9 L745.6,490.8 L729.7,490.8 Z" fill="#fff" stroke="#111" stroke-width="1.3" />
<path d="M731,490.8 L731,506 A19.8,19.8 0 0 0 770.6,506 L770.6,501" fill="#fff" stroke="#111" stroke-width="1.3" />
<path d="M743.3,490.8 L743.3,506 A7.4,7.4 0 0 0 758.1,506 L758.1,501" fill="none" stroke="#111" stroke-width="1.2" />
<path d="M756.6,501 L772.2,501 L772.2,505.6 L756.6,505.6 Z" fill="#fff" stroke="#111" stroke-width="1.3" />
<path d="M758.1,501 Q758.5,487 769,484.2 M770.6,501 L770.6,496" fill="none" stroke="#111" stroke-width="1.2" />
<path d="M769,480.6 L777.7,480.6 L777.7,498.8 L769,498.8 Z" fill="#fff" stroke="#111" stroke-width="1.2" />
<line x1="772.5" y1="480.6" x2="772.5" y2="498.8" stroke="#111" stroke-width="0.9" />
<circle cx="736.9" cy="201.7" r="44.4" fill="#fff" stroke="#111" stroke-width="1.9"/>
<circle cx="736.9" cy="201.7" r="42.5" fill="none" stroke="#333" stroke-width="0.9" stroke-dasharray="2.2,1.3"/>
<circle cx="736.9" cy="201.7" r="37.9" fill="none" stroke="#777" stroke-width="0.9" stroke-dasharray="10,3,2,3"/>
<circle cx="736.55" cy="201.75" r="12.5" fill="#c4c4c4" stroke="#111" stroke-width="1.5"/>
<path d="M730.6,190.8 L736.1,198.2 L737,198.2 L742.5,190.8 A12.5,12.5 0 0 0 730.6,190.8 Z" fill="#fff" stroke="#111" stroke-width="1.3" />
<path d="M730.6,212.7 L736.1,205.3 L737,205.3 L742.5,212.7 A12.5,12.5 0 0 1 730.6,212.7 Z" fill="#fff" stroke="#111" stroke-width="1.3" />
<path d="M728.5,193.5 L734.2,200.2 M744.6,193.5 L738.9,200.2 M728.5,210 L734.2,203.3 M744.6,210 L738.9,203.3" fill="none" stroke="#fff" stroke-width="1.8" />
<line x1="724.5" y1="201.7" x2="748.6" y2="201.7" stroke="#777" stroke-width="0.9" />
<ellipse cx="736.55" cy="201.8" rx="1.9" ry="3.2" fill="#111"/>
<rect x="749.4" y="199" width="4.4" height="5" rx="1" fill="#fff" stroke="#111" stroke-width="1.1"/>
<path d="M781.2,194.8 L795,194.8 Q800.8,194 801.2,186 M781.2,208.5 L795,208.5 Q800.8,209.3 801.2,217.5" fill="none" stroke="#111" stroke-width="1.3" />
<line x1="781.4" y1="196" x2="781.4" y2="207.5" stroke="#111" stroke-width="1.0" />
<rect x="801.8" y="183" width="3.4" height="37.3" rx="0.8" fill="#fff" stroke="#111" stroke-width="1.3"/>
<line x1="757.2" y1="241" x2="757.2" y2="270.4" stroke="#111" stroke-width="2.0" />
<line x1="756.7" y1="242.6" x2="775.8" y2="242.6" stroke="#111" stroke-width="1.7" />
<rect x="758.7" y="243" width="4.9" height="2.6" fill="#222"/>
<path d="M764.2,238.9 L769.6,238.9 L769.6,234 Q767.5,235.8 764.8,236.4 Z" fill="#fff" stroke="#111" stroke-width="1.0" />
<line x1="764.5" y1="237.5" x2="769.5" y2="237.5" stroke="#444" stroke-width="0.8" />
<line x1="737.6" y1="416.5" x2="737.6" y2="527" stroke="#555" stroke-width="0.8" stroke-dasharray="26,3,3,3"/>
<line x1="322.0" y1="443.5" x2="322.0" y2="460" stroke="#555" stroke-width="0.8" stroke-dasharray="5,2.5"/>
</svg>
</body></html>
